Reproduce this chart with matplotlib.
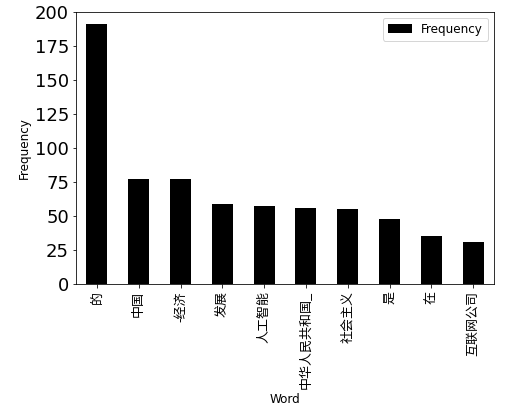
import matplotlib
matplotlib.use('Agg')
import matplotlib.pyplot as plt
import pandas as pd

# top 10 words and their counts
words = ['的', '中国', '-经济', '发展', '人工智能', '中华人民共和国_', '社会主义', '是', '在', '互联网公司']
counts = [191, 77, 77, 59, 57, 56, 55, 48, 35, 31]

df = pd.DataFrame({'Word': words, 'Frequency': counts})

fig = plt.figure(figsize=(509 / 72, 409 / 72), dpi=72)
ax = fig.add_axes([76 / 509, 125 / 409, 418 / 509, 272 / 409])

df.plot(kind='bar', x='Word', y='Frequency', color='black', ax=ax, legend=True)

ax.set_ylim(0, 200)
ax.set_yticks(range(0, 201, 25))
ax.tick_params(axis='y', labelsize=18)
ax.set_xticks(range(len(words)))
ax.set_xticklabels(words, rotation=90, fontsize=13,
                   family=['Noto Sans CJK SC', 'DejaVu Sans'])
ax.set_xlabel('Word', fontsize=12)
ax.set_ylabel('Frequency', fontsize=12)
ax.legend(loc='upper right', fontsize=12)

fig.savefig('out.png', dpi=72)
